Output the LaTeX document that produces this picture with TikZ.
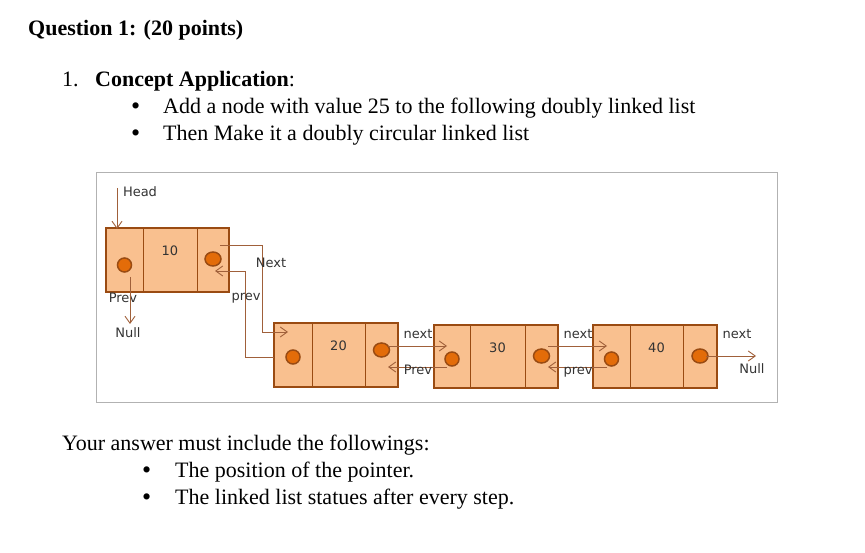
\documentclass[tikz,border=0pt]{standalone}
\usepackage{fontspec}
\setmainfont{Liberation Serif}
\newfontfamily\dg{DejaVu Sans}
\usetikzlibrary{arrows.meta}
\definecolor{peach}{HTML}{F9C08F}
\definecolor{bord}{HTML}{9A4B12}
\definecolor{dot}{HTML}{E36C09}
\definecolor{arr}{HTML}{A0603A}
\begin{document}
\begin{tikzpicture}[x=1pt,y=-1pt,
  box/.style={draw=bord,fill=peach,line width=2.8pt},
  div/.style={draw=bord,line width=1pt},
  ptr/.style={draw=bord,fill=dot,line width=1.5pt},
  lnk/.style={draw=arr,line width=0.9pt,-{Straight Barb[length=7pt,width=10pt]}},
  dtx/.style={font=\dg\fontsize{13}{15}\selectfont,text=black!80,inner sep=0pt},
  txt/.style={anchor=base west,inner sep=0pt,font=\fontsize{22}{26}\selectfont},
  bul/.style={anchor=base west,inner sep=0pt,font=\fontsize{26}{26}\selectfont}]
\useasboundingbox (0,0) rectangle (865,553);
\node[txt,font=\bfseries\fontsize{22}{26}\selectfont] (q) at (28,36) {Question 1: (20 points)};
\node[txt] (n1) at (62,87) {1.};
\node[txt] (ca) at (95,87) {\textbf{Concept Application}:};
\node[bul] (b1) at (131,115) {\textbullet};
\node[txt] (t1) at (163,114) {Add a node with value 25 to the following doubly linked list};
\node[bul] (b2) at (131,142) {\textbullet};
\node[txt] (t2) at (163,141) {Then Make it a doubly circular linked list};
\draw[draw=black!30,line width=1pt] (96,173) rectangle (777,402);
\foreach \n/\xa/\xb/\xc/\xd/\ya/\yb/\v/\lc/\rc in {
 A/106/143/197/229/228/292/10/265/259,
 B/274/312/365/398/323/387/20/357/350,
 C/434/470/525/558/325/388/30/359/356,
 D/593/630/683/717/325/388/40/359/356}{
  \draw[box] (\xa,\ya) rectangle (\xd,\yb);
  \draw[div] (\xb,\ya) -- (\xb,\yb) (\xc,\ya) -- (\xc,\yb);
  \node[dtx] (v\n) at ({(\xb+\xc)/2},{\ya+23}) {\v};
  \draw[ptr] ({(\xa+\xb)/2},\lc) ellipse (7pt and 7pt);
  \draw[ptr] ({(\xc+\xd)/2},\rc) ellipse (8pt and 7pt);
}
\node[dtx] (head) at (140,192) {Head};
\coordinate (h0) at (117,188); \coordinate (h1) at (117,229);
\draw[lnk] (h0) -- (h1);
\node[dtx] (prev0) at (123,298) {Prev};
\coordinate (p0) at (130,277); \coordinate (p1) at (130,324);
\draw[lnk] (p0) -- (p1);
\node[dtx] (null0) at (128,333) {Null};
\coordinate (na) at (220,245); \coordinate (nb) at (288,332);
\draw[lnk] (na) -| (262,332) -- (nb);
\node[dtx] (next1) at (271,263) {Next};
\coordinate (pa) at (274,357); \coordinate (pb) at (215,271);
\draw[lnk] (pa) -| (245,271) -- (pb);
\node[dtx] (prev1) at (246,298) {prev};
\coordinate (a2) at (388,346); \coordinate (b2) at (447,346);
\draw[lnk] (a2) -- (b2);
\node[dtx] (next2) at (418,334) {next};
\coordinate (c2) at (447,367); \coordinate (d2) at (388,367);
\draw[lnk] (c2) -- (d2);
\node[dtx] (prev2) at (418,370) {Prev};
\coordinate (a3) at (548,346); \coordinate (b3) at (607,346);
\draw[lnk] (a3) -- (b3);
\node[dtx] (next3) at (578,334) {next};
\coordinate (c3) at (607,367); \coordinate (d3) at (548,367);
\draw[lnk] (c3) -- (d3);
\node[dtx] (prev3) at (578,372) {prev};
\coordinate (a4) at (706,356); \coordinate (b4) at (756,356);
\draw[lnk] (a4) -- (b4);
\node[dtx] (next4) at (737,334) {next};
\node[dtx] (null4) at (752,369) {Null};
\node[txt] (ya) at (62,450) {Your answer must include the followings:};
\node[bul] (b3t) at (142,478) {\textbullet};
\node[txt] (t3) at (175,477) {The position of the pointer.};
\node[bul] (b4t) at (142,505) {\textbullet};
\node[txt] (t4) at (175,504) {The linked list statues after every step.};
\end{tikzpicture}
\end{document}
